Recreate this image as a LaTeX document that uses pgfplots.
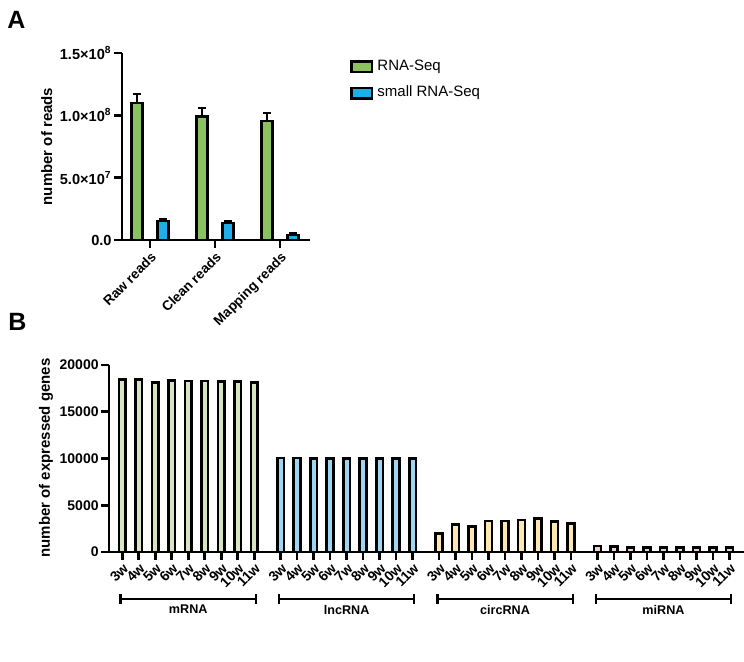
\documentclass[border=0pt]{standalone}
\usepackage{fontspec}
\setmainfont{Liberation Sans}
\usepackage{pgfplots}
\pgfplotsset{compat=1.18}
\definecolor{aGreen}{RGB}{139,193,95}
\definecolor{aBlue}{RGB}{30,174,232}
\definecolor{bGreen}{RGB}{214,228,196}
\definecolor{bBlue}{RGB}{156,214,240}
\definecolor{bYellow}{RGB}{251,231,176}
\definecolor{bPink}{RGB}{242,206,206}
\newcommand\fs[1]{\fontsize{#1}{#1}\selectfont}

\pgfplotsset{
  common/.style={
    axis lines=left,
    axis line style={line width=1.3pt, -},
    every tick/.style={line width=1.3pt, black},
    tick align=outside,
    major tick length=4pt,
    scale only axis,
    ymin=0,
    ybar, bar shift=0pt,
    scaled y ticks=false,
    clip=false,
  },
}

\begin{document}
\begin{tikzpicture}[x=0.5pt,y=0.5pt]
% corners of the two plot areas, in reference pixels
\coordinate (pA) at (122,-240);
\coordinate (pB) at (109,-552);

% panel letters
\node[anchor=base west, inner sep=0, font=\fs{12.5}\bfseries] at (7,-28) {A};
\node[anchor=base west, inner sep=0, font=\fs{12.5}\bfseries] at (8,-330) {B};

% ---------- A ----------
\begin{axis}[common,
  at={(pA)}, anchor=south west,
  width=94pt, height=93.5pt,
  xmin=-0.43, xmax=2.46,
  ymax=1.5e8,
  xtick={0,1,2},
  xticklabels={Raw reads, Clean reads, Mapping reads},
  xticklabel style={rotate=45, anchor=north east, font=\fs{6.8}\bfseries, inner sep=1pt},
  ytick={0,5e7,1e8,1.5e8},
  yticklabels={0.0, 5.0×10\textsuperscript{7}, 1.0×10\textsuperscript{8}, 1.5×10\textsuperscript{8}},
  yticklabel style={font=\fs{7.3}\bfseries, inner sep=1pt},
  ylabel={number of reads},
  every axis y label/.style={at={(axis description cs:-0.40,0.5)}, rotate=90, anchor=center, font=\fs{7.5}\bfseries},
  legend style={draw=none, at={(1.213,0.985)}, anchor=north west, inner sep=0pt,
    font=\fs{7.5}, row sep=2.2pt, cells={anchor=west},
    /tikz/every even column/.append style={column sep=3.5pt}},
  legend image code/.code={\draw[#1, line width=1.3pt] (0pt,-2.6pt) rectangle (10.2pt,2.6pt);},
]
\addplot[fill=aGreen, draw=black, line width=1.3pt, bar width=5.4pt,
  error bars/.cd, y dir=plus, y explicit,
  error bar style={line width=1.3pt, black},
  error mark options={rotate=90, mark size=2pt, line width=1.3pt, black}]
  coordinates {(-0.2,1.10e8) +- (0,0.07e8) (0.8,0.99e8) +- (0,0.068e8) (1.8,0.955e8) +- (0,0.065e8)};
\addlegendentry{RNA-Seq}
\addplot[fill=aBlue, draw=black, line width=1.3pt, bar width=5.4pt,
  error bars/.cd, y dir=plus, y explicit,
  error bar style={line width=1.3pt, black},
  error mark options={rotate=90, mark size=2pt, line width=1.3pt, black}]
  coordinates {(0.2,0.152e8) +- (0,0.017e8) (1.2,0.136e8) +- (0,0.016e8) (2.2,0.04e8) +- (0,0.017e8)};
\addlegendentry{small RNA-Seq}
\end{axis}

% ---------- B ----------
\begin{axis}[common,
  at={(pB)}, anchor=south west,
  width=318.5pt, height=93.5pt,
  xmin=-0.8, xmax=37.8,
  ymax=20000,
  bar width=3.4pt,
  xtick={0,1,2,3,4,5,6,7,8,
         9.6,10.6,11.6,12.6,13.6,14.6,15.6,16.6,17.6,
         19.2,20.2,21.2,22.2,23.2,24.2,25.2,26.2,27.2,
         28.8,29.8,30.8,31.8,32.8,33.8,34.8,35.8,36.8},
  xticklabels={3w,4w,5w,6w,7w,8w,9w,10w,11w,
               3w,4w,5w,6w,7w,8w,9w,10w,11w,
               3w,4w,5w,6w,7w,8w,9w,10w,11w,
               3w,4w,5w,6w,7w,8w,9w,10w,11w},
  xticklabel style={rotate=45, anchor=north east, font=\fs{7}\bfseries, inner sep=0.8pt},
  ytick={0,5000,10000,15000,20000},
  yticklabels={0,5000,10000,15000,20000},
  yticklabel style={font=\fs{7}\bfseries, inner sep=1pt},
  ylabel={number of expressed genes},
  every axis y label/.style={at={(axis description cs:-0.099,0.503)}, rotate=90, anchor=center, font=\fs{7.5}\bfseries},
]
\addplot[fill=bGreen, draw=black, line width=1.3pt]
  coordinates {(0,18460) (1,18460) (2,18100) (3,18350) (4,18300) (5,18300) (6,18250) (7,18250) (8,18150)};
\addplot[fill=bBlue, draw=black, line width=1.3pt]
  coordinates {(9.6,10050) (10.6,10050) (11.6,10000) (12.6,10020) (13.6,10030) (14.6,10020) (15.6,10000) (16.6,10010) (17.6,10020)};
\addplot[fill=bYellow, draw=black, line width=1.3pt]
  coordinates {(19.2,1960) (20.2,2960) (21.2,2750) (22.2,3320) (23.2,3320) (24.2,3430) (25.2,3570) (26.2,3250) (27.2,3040)};
\addplot[fill=bPink, draw=black, line width=1.3pt]
  coordinates {(28.8,640) (29.8,610) (30.8,500) (31.8,500) (32.8,470) (33.8,470) (34.8,470) (35.8,470) (36.8,500)};

% group brackets
\foreach \a/\b in {-0.1/8.1, 9.5/17.7, 19.1/27.3, 28.7/36.9}{
  \edef\tmp{\noexpand\draw[line width=1.1pt] (axis cs:\a,-4490) -- (axis cs:\a,-5560)
     (axis cs:\a,-5027) -- (axis cs:\b,-5027)
     (axis cs:\b,-4490) -- (axis cs:\b,-5560);}
  \tmp
}
\node[anchor=north, inner sep=0, font=\fs{6.3}\bfseries] at (axis cs:4,-5650) {mRNA};
\node[anchor=north, inner sep=0, font=\fs{6.3}\bfseries] at (axis cs:13.6,-5650) {lncRNA};
\node[anchor=north, inner sep=0, font=\fs{6.3}\bfseries] at (axis cs:23.2,-5650) {circRNA};
\node[anchor=north, inner sep=0, font=\fs{6.3}\bfseries] at (axis cs:32.8,-5650) {miRNA};
\end{axis}

\pgfresetboundingbox
\useasboundingbox (0,0) rectangle (744,-661);
\end{tikzpicture}
\end{document}
